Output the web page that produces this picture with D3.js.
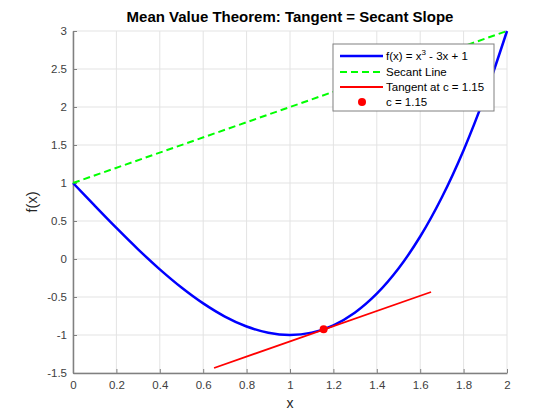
<!DOCTYPE html>
<html>
<head>
<meta charset="utf-8">
<script src="https://cdn.jsdelivr.net/npm/d3@7"></script>
<style>
  body { margin: 0; background: #fff; }
  text { font-family: "Liberation Sans", Arial, sans-serif; }
</style>
</head>
<body>
<div id="chart"></div>
<script>
// curve samples
const curveX = [0, 0.1, 0.2, 0.3, 0.4, 0.5, 0.6, 0.7, 0.8, 0.9, 1.0,
  1.1, 1.2, 1.3, 1.4, 1.5, 1.6, 1.7, 1.8, 1.9, 2.0];
const curveY = [1, 0.701, 0.408, 0.127, -0.136, -0.375, -0.584, -0.757, -0.888, -0.971, -1,
  -0.969, -0.872, -0.703, -0.456, -0.125, 0.296, 0.813, 1.432, 2.159, 3];
const secantX = [0, 2];
const secantY = [1, 3];
const tangentX = [0.65, 1.65];
const tangentY = [-1.434, -0.434];
const pointC = [1.155, -0.925];
const xTicks = [0, 0.2, 0.4, 0.6, 0.8, 1, 1.2, 1.4, 1.6, 1.8, 2];
const yTicks = [-1.5, -1, -0.5, 0, 0.5, 1, 1.5, 2, 2.5, 3];
const legendLabels = ['f(x) = x', 'Secant Line', 'Tangent at c = 1.15', 'c = 1.15'];

const W = 560, H = 420;
const margin = { top: 31, right: 53, bottom: 47, left: 73 };
const width = W - margin.left - margin.right;
const height = H - margin.top - margin.bottom;

const svg = d3.select('#chart').append('svg')
  .attr('width', W).attr('height', H);

const g = svg.append('g')
  .attr('transform', 'translate(' + margin.left + ',' + margin.top + ')');

const x = d3.scaleLinear().domain([0, 2]).range([0, width]);
const y = d3.scaleLinear().domain([-1.5, 3]).range([height, 0]);

// grid
g.append('g').selectAll('line').data(xTicks).join('line')
  .attr('x1', d => x(d)).attr('x2', d => x(d))
  .attr('y1', 0).attr('y2', height)
  .attr('stroke', '#e3e3e3').attr('stroke-width', 1);
g.append('g').selectAll('line').data(yTicks).join('line')
  .attr('x1', 0).attr('x2', width)
  .attr('y1', d => y(d)).attr('y2', d => y(d))
  .attr('stroke', '#e3e3e3').attr('stroke-width', 1);

// axes (plain hyphen minus like the reference)
const fmt = d => String(d);
const xAxis = g.append('g').attr('transform', 'translate(0,' + height + ')')
  .call(d3.axisBottom(x).tickValues(xTicks).tickFormat(fmt).tickSizeInner(-4).tickSizeOuter(0).tickPadding(8));
const yAxis = g.append('g')
  .call(d3.axisLeft(y).tickValues(yTicks).tickFormat(fmt).tickSizeInner(-4).tickSizeOuter(0).tickPadding(6));
[xAxis, yAxis].forEach(a => {
  a.select('.domain').attr('stroke', '#808080').attr('stroke-width', 1.5);
  a.selectAll('.tick line').attr('stroke', '#808080');
  a.selectAll('.tick text').attr('fill', '#404040').style('font-size', '11.5px');
});

const line = d3.line().x(d => x(d[0])).y(d => y(d[1]));

// curve
g.append('path')
  .datum(curveX.map((v, i) => [v, curveY[i]]))
  .attr('d', line.curve(d3.curveCatmullRom))
  .attr('fill', 'none').attr('stroke', '#0000ff').attr('stroke-width', 2.5);

const straight = d3.line().x(d => x(d[0])).y(d => y(d[1]));

g.append('path')
  .datum(secantX.map((v, i) => [v, secantY[i]]))
  .attr('d', straight)
  .attr('fill', 'none').attr('stroke', '#00ff00').attr('stroke-width', 2)
  .attr('stroke-dasharray', '7,4');

g.append('path')
  .datum(tangentX.map((v, i) => [v, tangentY[i]]))
  .attr('d', straight)
  .attr('fill', 'none').attr('stroke', '#ff0000').attr('stroke-width', 1.8);

g.append('circle')
  .attr('cx', x(pointC[0])).attr('cy', y(pointC[1])).attr('r', 4)
  .attr('fill', '#ff0000');

// title and labels
svg.append('text').text('Mean Value Theorem: Tangent = Secant Slope')
  .attr('x', margin.left + width / 2).attr('y', 22)
  .attr('text-anchor', 'middle').style('font-size', '15px').style('font-weight', 'bold')
  .attr('fill', '#000');
svg.append('text').text('x')
  .attr('x', margin.left + width / 2).attr('y', 408)
  .attr('text-anchor', 'middle').style('font-size', '14px').attr('fill', '#262626');
svg.append('text').text('f(x)')
  .attr('transform', 'translate(37,' + (margin.top + height / 2) + ') rotate(-90)')
  .attr('text-anchor', 'middle').style('font-size', '14.5px').attr('fill', '#262626');

// legend
const lg = svg.append('g').attr('transform', 'translate(333,44)');
lg.append('rect').attr('width', 161).attr('height', 67)
  .attr('fill', '#fff').attr('stroke', '#808080').attr('stroke-width', 1);
const rowsY = [12, 28, 43, 58];
const styles = [
  { c: '#0000ff', w: 2.5, dash: null },
  { c: '#00ff00', w: 2, dash: '7,4' },
  { c: '#ff0000', w: 1.8, dash: null }
];
styles.forEach((s, i) => {
  lg.append('line').attr('x1', 7).attr('x2', 50)
    .attr('y1', rowsY[i]).attr('y2', rowsY[i])
    .attr('stroke', s.c).attr('stroke-width', s.w)
    .attr('stroke-dasharray', s.dash);
});
lg.append('circle').attr('cx', 29).attr('cy', rowsY[3]).attr('r', 4).attr('fill', '#ff0000');
legendLabels.forEach((t, i) => {
  const tx = lg.append('text').attr('x', 53).attr('y', rowsY[i] + 4)
    .style('font-size', '11.5px').attr('fill', '#000').text(t);
  if (i === 0) {
    tx.append('tspan').text('3').attr('dy', -5).style('font-size', '8px');
    tx.append('tspan').text(' - 3x + 1').attr('dy', 5);
  }
});
</script>
</body>
</html>
